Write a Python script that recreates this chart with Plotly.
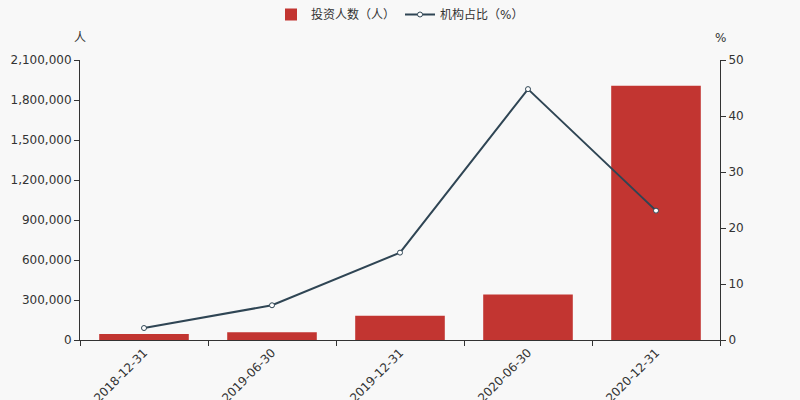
import plotly.graph_objects as go

categories = ["2018-12-31", "2019-06-30", "2019-12-31", "2020-06-30", "2020-12-31"]
investors = [45000, 58000, 182000, 341000, 1907000]
inst_ratio = [2.14, 6.2, 15.6, 44.8, 23.1]

left_ticks = [0, 300000, 600000, 900000, 1200000, 1500000, 1800000, 2100000]
right_ticks = [0, 10, 20, 30, 40, 50]

FONT = "DejaVu Sans, Noto Sans CJK SC, sans-serif"
AX = "#333333"

fig = go.Figure()
fig.add_trace(go.Bar(
    x=categories, y=investors, name="投资人数（人）",
    marker=dict(color="#c23531", line=dict(width=0)),
    yaxis="y",
))
fig.add_trace(go.Scatter(
    x=categories, y=inst_ratio, name="机构占比（%）",
    mode="lines+markers",
    line=dict(color="#2f4554", width=2),
    marker=dict(symbol="circle", size=5, color="#ffffff",
                line=dict(color="#2f4554", width=1)),
    yaxis="y2",
))

fig.update_layout(
    width=800, height=400,
    margin=dict(l=80, r=80, t=60, b=60, autoexpand=False),
    paper_bgcolor="#f8f8f8", plot_bgcolor="#f8f8f8",
    font=dict(family=FONT, size=12, color=AX),
    bargap=0.3,
    showlegend=True,
    legend=dict(orientation="h", x=0.5, xanchor="center", y=1.0, yanchor="top",
                yref="container", font=dict(size=12, color=AX),
                bgcolor="rgba(0,0,0,0)", itemwidth=30),
    xaxis=dict(
        type="category", showgrid=False, showline=True, linecolor=AX, linewidth=1,
        ticks="outside", tickson="boundaries", ticklen=5, tickcolor=AX,
        tickangle=-45, tickfont=dict(size=12, color=AX), zeroline=False,
        automargin=False,
    ),
    yaxis=dict(
        range=[0, 2100000], tickvals=left_ticks,
        ticktext=[f"{v:,}" for v in left_ticks],
        showgrid=False, showline=True, linecolor=AX, linewidth=1,
        ticks="outside", ticklen=5, tickcolor=AX, zeroline=False,
        tickfont=dict(size=12, color=AX), automargin=False,
    ),
    yaxis2=dict(
        range=[0, 50], tickvals=right_ticks, overlaying="y", side="right",
        showgrid=False, showline=True, linecolor=AX, linewidth=1,
        ticks="outside", ticklen=5, tickcolor=AX, zeroline=False,
        tickfont=dict(size=12, color=AX), automargin=False,
    ),
    annotations=[
        dict(text="人", xref="paper", yref="paper", x=0, y=1, yshift=22,
             showarrow=False, xanchor="center", yanchor="middle",
             font=dict(size=12, color=AX)),
        dict(text="%", xref="paper", yref="paper", x=1, y=1, yshift=22,
             showarrow=False, xanchor="center", yanchor="middle",
             font=dict(size=12, color=AX)),
    ],
)

fig.write_html(
    "out.html",
    config={"displayModeBar": False},
    post_script="document.body.style.margin='0';document.body.style.background='#f8f8f8';",
)
